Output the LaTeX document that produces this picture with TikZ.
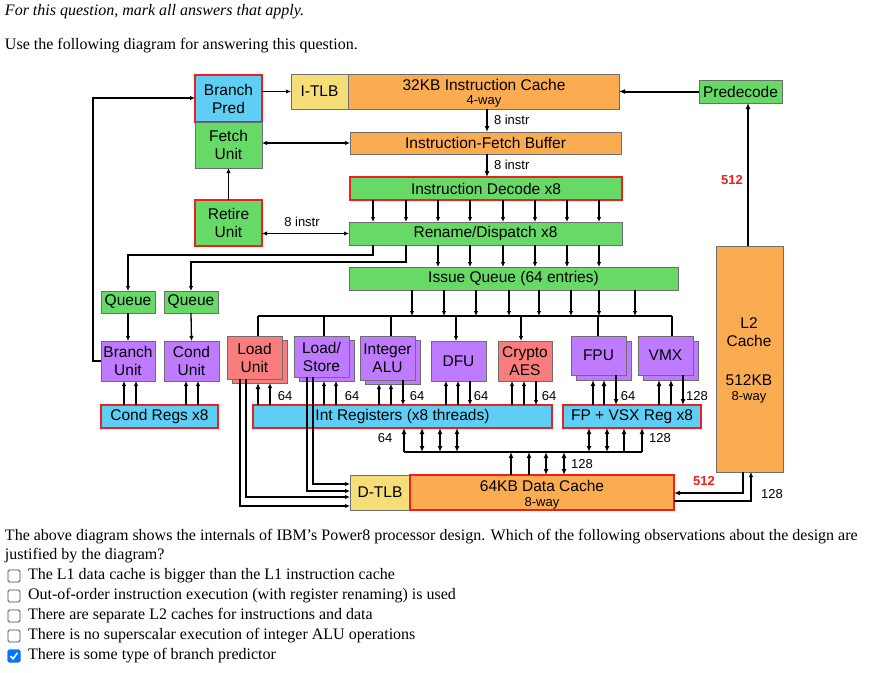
\documentclass[tikz,border=0pt]{standalone}
\usepackage{fontspec}
\setmainfont{Liberation Serif}
\newfontfamily\diafont{Liberation Sans}
\usetikzlibrary{arrows.meta,positioning}
\definecolor{mycyan}{RGB}{94,206,245}
\definecolor{mygreen}{RGB}{102,217,102}
\definecolor{myorange}{RGB}{252,172,80}
\definecolor{myyellow}{RGB}{245,222,120}
\definecolor{mypurple}{RGB}{191,123,255}
\definecolor{mysalmon}{RGB}{250,125,125}
\definecolor{myred}{RGB}{240,30,30}
\definecolor{mygray}{RGB}{110,110,110}
\definecolor{mycheck}{RGB}{0,117,255}
% block from (x1,y1) to (x2,y2) in pixels
\newcommand{\blok}[7]{\node[#6,anchor=north west,minimum width={#4-#2},minimum height={#5-#3}] (#1) at (#2,#3) {#7};}
\begin{document}
\begin{tikzpicture}[x=1pt,y=-1pt,
	every node/.style={inner sep=0pt,outer sep=0pt,font=\diafont\fontsize{15.5}{18}\selectfont},
	blk/.style={draw=mygray,line width=0.8pt,align=center},
	redblk/.style={blk,draw=myred,line width=1.2pt},
	grn/.style={blk,fill=mygreen},
	org/.style={blk,fill=myorange},
	yel/.style={blk,fill=myyellow},
	pur/.style={blk,fill=mypurple},
	sal/.style={blk,fill=mysalmon},
	small/.style={font=\diafont\fontsize{13}{14}\selectfont},
	txt/.style={anchor=west,font=\fontsize{16}{19}\selectfont},
	box/.style={draw=black!70,line width=0.8pt,rounded corners=1.5pt,minimum size=12pt},
	arr/.style={line width=1.3pt,-{Latex[length=5pt,width=4.5pt]}},
	darr/.style={line width=1.3pt,{Latex[length=5pt,width=4.5pt]}-{Latex[length=5pt,width=4.5pt]}},
	tarr/.style={line width=2pt,-{Latex[length=6pt,width=5pt]}},
	tdarr/.style={line width=2pt,{Latex[length=6pt,width=5pt]}-{Latex[length=6pt,width=5pt]}},
	]
	\useasboundingbox (0,0) rectangle (872,672);
	
	% question text
	\node[txt] (q1) at (5,12) {\itshape For this question, mark all answers that apply.};
	\node[txt] (q2) at (5,46) {Use the following diagram for answering this question.};
	\node[txt] (q3) at (5,537) {The above diagram shows the internals of IBM's Power8 processor design. Which of the following observations about the design are};
	\node[txt] (q4) at (5,556) {justified by the diagram?};
	\foreach \y/\t [count=\i] in {576/The L1 data cache is bigger than the L1 instruction cache,
		596/Out-of-order instruction execution (with register renaming) is used,
		616/There are separate L2 caches for instructions and data,
		636/There is no superscalar execution of integer ALU operations,
		656/There is some type of branch predictor}
	{\node[box] (cb\i) at (14,\y) {};
	 \node[txt] (ans\i) at (28,\y) {\t};}
	\node[box,draw=mycheck,fill=mycheck] (cb5) at (14,656) {};
	\draw[white,line width=1.6pt] (cb5.center) ++(-3.5,0) -- ++(2.5,2.8) -- ++(4.5,-6);
	
	% front end
	\blok{bp}{195}{75}{262}{122}{redblk,fill=mycyan}{Branch\\Pred}
	\blok{fu}{195}{122}{262}{168}{grn}{Fetch\\Unit}
	\blok{ru}{195}{200}{262}{246}{redblk,fill=mygreen}{Retire\\Unit}
	\blok{itlb}{291}{74}{348}{109}{yel}{I-TLB}
	\blok{ic}{348}{74}{619}{109}{org}{}
	\node (ict) at (484,85) {32KB Instruction Cache};
	\node[small] (icw) at (484,101) {4-way};
	\blok{pd}{699}{80}{782}{103}{grn}{Predecode}
	\blok{ifb}{350}{132}{621}{154}{org}{Instruction-Fetch Buffer}
	\blok{dec}{350}{177}{622}{200}{redblk,fill=mygreen}{Instruction Decode x8}
	\blok{ren}{349}{222}{622}{245}{grn}{Rename/Dispatch x8}
	\blok{iq}{349}{267}{678}{290}{grn}{Issue Queue (64 entries)}
	\blok{qa}{101}{291}{155}{313}{grn}{Queue}
	\blok{qb}{164}{291}{218}{313}{grn}{Queue}
	\blok{bu}{101}{341}{155}{381}{pur}{Branch\\Unit}
	\blok{cu}{164}{341}{219}{381}{pur}{Cond\\Unit}
	\blok{cr}{101}{405}{218}{428}{redblk,fill=mycyan}{Cond Regs x8}
	
	% execution units
	\blok{lus}{232}{340}{287}{383}{sal}{}
	\blok{lu}{227}{336}{282}{379}{sal}{Load\\Unit}
	\blok{lss}{299}{340}{354}{381}{pur}{}
	\blok{ls}{294}{336}{349}{377}{pur}{Load/\\Store}
	\blok{ius}{365}{340}{420}{384}{pur}{}
	\blok{iu}{360}{336}{415}{380}{pur}{Integer\\ALU}
	\blok{dfu}{431}{341}{486}{381}{pur}{DFU}
	\blok{cry}{498}{341}{552}{381}{sal}{Crypto\\AES}
	\blok{fpus}{576}{341}{631}{380}{pur}{}
	\blok{fpu}{571}{336}{626}{375}{pur}{FPU}
	\blok{vmxs}{643}{341}{698}{380}{pur}{}
	\blok{vmx}{638}{336}{693}{375}{pur}{VMX}
	\blok{ir}{253}{405}{552}{428}{redblk,fill=mycyan}{Int Registers (x8 threads)}
	\blok{fr}{563}{405}{701}{428}{redblk,fill=mycyan}{FP + VSX Reg x8}
	
	% memory
	\blok{dtlb}{350}{475}{410}{510}{yel}{D-TLB}
	\blok{dc}{410}{475}{674}{510}{redblk,fill=myorange}{}
	\node (dct) at (542,486) {64KB Data Cache};
	\node[small] (dcw) at (542,503) {8-way};
	\blok{l2}{716}{246}{783}{472}{org}{}
	\node[align=center] (l2t) at (749,332) {L2\\Cache};
	\node (l2s) at (749,380) {512KB};
	\node[small] (l2w) at (749,397) {8-way};
	
	% front end edges
	\draw[arr] (bp.east |- itlb.west) -- (itlb.west);
	\draw[tarr] (pd.west) -- (pd.west -| ic.east);
	\draw[darr] (fu.east |- ifb.west) -- (ifb.west);
	\draw[arr] (ru.north) -- (fu.south);
	\draw[darr] (ru.east |- ren.west) -- (ren.west);
	\node[small] (l8a) at (302,222) {8 instr};
	\draw[tarr] (ic.south -| 487,0) -- (ifb.north -| 487,0);
	\node[small,anchor=west] (l8b) at (494,120) {8 instr};
	\draw[tarr] (ifb.south -| 487,0) -- (dec.north -| 487,0);
	\node[small,anchor=west] (l8c) at (494,165) {8 instr};
	\foreach \x in {373,406,438,470,503,535,567,599}
	\draw[arr] (dec.south -| \x,0) -- (ren.north -| \x,0);
	\foreach \x in {438,470,503,535,567,599}
	\draw[arr] (ren.south -| \x,0) -- (iq.north -| \x,0);
	\draw[arr] (ren.south -| 373,0) -- (373,255) -| (qa.north);
	\draw[arr] (ren.south -| 406,0) -- (406,262) -| (qb.north);
	\draw[arr] (qa.south) -- (bu.north);
	\draw[arr] (qb.south) -- (cu.north);
	\draw[arr] (bu.west) -- ++(-8,0) |- (bp.west |- 0,98);
	\foreach \x in {124,136}
	\draw[arr] (cr.north -| \x,0) -- (bu.south -| \x,0);
	\foreach \x in {186,198}
	\draw[arr] (cr.north -| \x,0) -- (cu.south -| \x,0);
	
	% issue bus
	\coordinate (bl) at (258,316);
	\coordinate (br) at (672,316);
	\draw[line width=1.3pt] (bl) -- (br);
	\foreach \x in {412,444,476,509,539,571,599,635}
	\draw[arr] (iq.south -| \x,0) -- (\x,316);
	\draw[line width=1.3pt] (bl) -- (bl |- lu.north);
	\draw[line width=1.3pt] (324,316) -- (ls.north -| 324,0);
	\draw[line width=1.3pt] (391,316) -- (iu.north -| 391,0);
	\draw[arr] (456,316) -- (dfu.north -| 456,0);
	\draw[arr] (521,316) -- (cry.north -| 521,0);
	\draw[line width=1.3pt] (598,316) -- (fpu.north -| 598,0);
	\draw[line width=1.3pt] (br) -- (br |- vmx.north);
	
	% register edges
	\draw[tarr] (ir.north -| 258,0) -- (lus.south -| 258,0);
	\draw[arr] (ir.north -| 270,0) -- (lus.south -| 270,0);
	\foreach \x in {324,336}
	\draw[arr] (ir.north -| \x,0) -- (lss.south -| \x,0);
	\foreach \x in {379,391}
	\draw[arr] (ir.north -| \x,0) -- (ius.south -| \x,0);
	\draw[arr] (iu.south -| 403,0) -- (ir.north -| 403,0);
	\foreach \x in {446,458}
	\draw[arr] (ir.north -| \x,0) -- (dfu.south -| \x,0);
	\draw[arr] (dfu.south -| 470,0) -- (ir.north -| 470,0);
	\foreach \x in {512,524}
	\draw[arr] (ir.north -| \x,0) -- (cry.south -| \x,0);
	\draw[arr] (cry.south -| 536,0) -- (ir.north -| 536,0);
	\foreach \x in {593,604}
	\draw[tarr] (fr.north -| \x,0) -- (fpus.south -| \x,0);
	\draw[tarr] (fpu.south -| 616,0) -- (fr.north -| 616,0);
	\foreach \x in {659,671}
	\draw[tarr] (fr.north -| \x,0) -- (vmxs.south -| \x,0);
	\draw[tarr] (vmx.south -| 683,0) -- (fr.north -| 683,0);
	\foreach \x/\t in {285/64,352/64,417/64,481/64,549/64,628/64,697/128}
	\node[small] (n\x) at (\x,396) {\t};
	
	% cache bus
	\coordinate (cbl) at (404,452);
	\coordinate (cbr) at (642,452);
	\draw[line width=2pt] (cbl) -- (cbr);
	\draw[tarr] (cbl) -- (ir.south -| cbl);
	\foreach \x in {422,440,457}
	\draw[tdarr] (\x,452) -- (ir.south -| \x,0);
	\foreach \x in {589,607}
	\draw[tdarr] (\x,452) -- (fr.south -| \x,0);
	\foreach \x in {624}
	\draw[tarr] (\x,452) -- (fr.south -| \x,0);
	\draw[tarr] (cbr) -- (fr.south -| cbr);
	\foreach \x in {511,529}
	\draw[tarr] (dc.north -| \x,0) -- (\x,452);
	\foreach \x in {546,564}
	\draw[tdarr] (dc.north -| \x,0) -- (\x,452);
	\node[small] (n64) at (385,438) {64};
	\node[small] (n128a) at (660,438) {128};
	\node[small] (n128b) at (582,464) {128};
	
	% load/store to D-TLB
	\draw[arr] (lu.south -| 240,0) |- (dtlb.west |- 0,506);
	\draw[arr] (lu.south -| 246,0) |- (dtlb.west |- 0,497);
	\draw[arr] (ls.south -| 307,0) |- (dtlb.west |- 0,491);
	\draw[arr] (ls.south -| 313,0) |- (dtlb.west |- 0,484);
	
	% L2 edges
	\draw[tarr] (l2.north -| 748,0) -- (pd.south -| 748,0);
	\node[small,text=myred,font=\diafont\bfseries\fontsize{13}{14}\selectfont] (n512a) at (732,180) {512};
	\draw[tarr] (l2.south -| 743,0) |- (dc.east |- 0,493);
	\draw[arr] (dc.east |- 0,501) -| (l2.south -| 751,0);
	\node[small,text=myred,font=\diafont\bfseries\fontsize{13}{14}\selectfont] (n512b) at (704,481) {512};
	\node[small] (n128c) at (772,494) {128};
\end{tikzpicture}
\end{document}
